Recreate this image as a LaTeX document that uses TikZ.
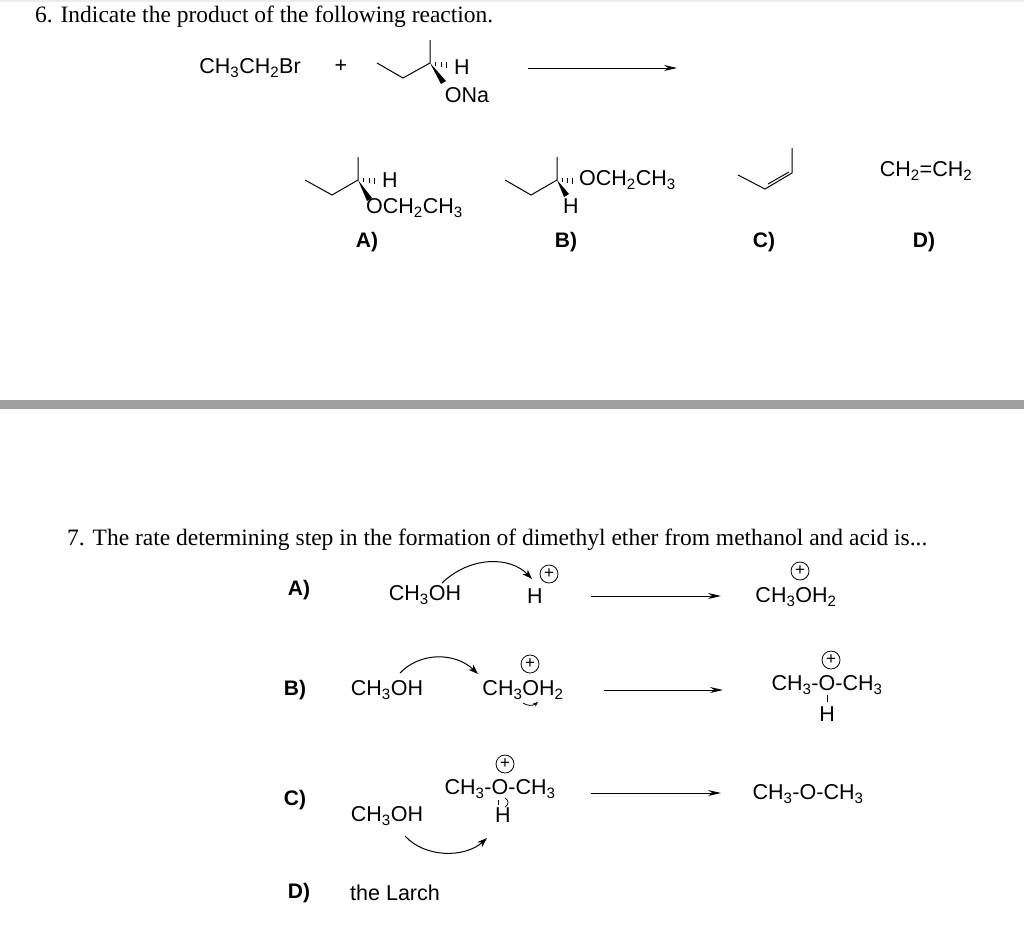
\documentclass[tikz,border=0pt]{standalone}
\usepackage{fontspec}
\setmainfont{Liberation Sans}
\newfontfamily\serifq{Liberation Serif}
\usetikzlibrary{arrows.meta,calc}
\newcommand\sbs[1]{\textsubscript{#1}}
\begin{document}
\begin{tikzpicture}[x=1pt,y=-1pt,
  lbl/.style={inner sep=0pt,font=\fontsize{21.5}{24}\selectfont},
  ttl/.style={inner sep=0pt,anchor=west,font=\serifq\fontsize{23.5}{26}\selectfont},
  bl/.style={inner sep=0pt,font=\bfseries\fontsize{21}{24}\selectfont},
  bond/.style={line width=1pt},
  rxn/.style={line width=1pt,-{Stealth[length=13pt,width=6pt]}},
  curv/.style={line width=1pt,-{Stealth[length=10pt,width=7pt]}},
  pc/.style={circle,draw,line width=0.8pt,inner sep=0pt,minimum size=18pt,font=\fontsize{17}{17}\selectfont}]
\useasboundingbox (0,0) rectangle (1024,924);
\fill[gray!15] (0,0) rectangle (1024,2);
\fill[gray!75] (0,400) rectangle (1024,409);
\node[ttl] (t6) at (35,17) {6. Indicate the product of the following reaction.};
% reactants
\node[lbl] (etbr) at (250,68) {CH\sbs3CH\sbs2Br};
\node[lbl] (plus) at (341,66) {+};
\coordinate (r1) at (377,63); \coordinate (r2) at (403,78); \coordinate (rc) at (430,63); \coordinate (r4) at (430,40);
\draw[bond] (r1)--(r2)--(rc)--(r4);
\node[lbl] (rh) at (462,67) {H};
\node[lbl] (rona) at (467,95) {ONa};
\foreach \t in {0.25,0.5,0.75} \draw[line width=0.8pt] ($(rc)!\t!(452,66)+(0,-1.5-2*\t)$)--($(rc)!\t!(452,66)+(0,1.5+2*\t)$);
\fill (rc)--(441,84)--(446,81)--cycle;
\coordinate (ra1) at (528,68); \coordinate (ra2) at (677,68);
\draw[rxn] (ra1)--(ra2);
% A
\coordinate (a1) at (305,180); \coordinate (a2) at (332,195); \coordinate (ac) at (358,180); \coordinate (a4) at (358,157);
\draw[bond] (a1)--(a2)--(ac)--(a4);
\foreach \t in {0.25,0.5,0.75} \draw[line width=0.8pt] ($(ac)!\t!(380,181)+(0,-1.5-2*\t)$)--($(ac)!\t!(380,181)+(0,1.5+2*\t)$);
\node[lbl] (ah) at (390,180) {H};
\fill (ac)--(367,201)--(372,198)--cycle;
\node[lbl,anchor=west] (aoet) at (366,208) {OCH\sbs2CH\sbs3};
% B
\coordinate (b1) at (505,180); \coordinate (b2) at (531,195); \coordinate (bc) at (557,180); \coordinate (b4) at (557,157);
\draw[bond] (b1)--(b2)--(bc)--(b4);
\foreach \t in {0.25,0.5,0.75} \draw[line width=0.8pt] ($(bc)!\t!(578,181)+(0,-1.5-2*\t)$)--($(bc)!\t!(578,181)+(0,1.5+2*\t)$);
\node[lbl,anchor=west] (boet) at (579,180) {OCH\sbs2CH\sbs3};
\fill (bc)--(564,197)--(569,194)--cycle;
\node[lbl] (bh) at (571,206) {H};
% C
\coordinate (c1) at (738,175); \coordinate (c2) at (765,189); \coordinate (c3) at (792,173); \coordinate (c4) at (792,148);
\draw[bond] (c1)--(c2)--(c3)--(c4);
\draw[bond] (768,184)--(789,172);
\node[lbl] (d) at (926,171) {CH\sbs2=CH\sbs2};
\node[bl] (la) at (367,242) {A)};
\node[bl] (lb) at (566,242) {B)};
\node[bl] (lc) at (764,242) {C)};
\node[bl] (ld) at (924,242) {D)};
% Q7
\node[ttl] (t7) at (67,540) {7. The rate determining step in the formation of dimethyl ether from methanol and acid is...};
% A
\node[bl] (qa) at (299,590) {A)};
\node[lbl] (a7m) at (425,595) {CH\sbs3OH};
\node[lbl] (a7h) at (535,596) {H};
\node[pc] (a7p) at (549,574) {+};
\draw[curv] (442,583) .. controls (470,556) and (510,556) .. (532,579);
\coordinate (aa1) at (591,596); \coordinate (aa2) at (721,596);
\draw[rxn] (aa1)--(aa2);
\node[lbl] (a7o) at (796,597) {CH\sbs3OH\sbs2};
\node[pc] (a7p2) at (800,571) {+};
% B
\node[bl] (qb) at (295,690) {B)};
\node[lbl] (b7m) at (387,690) {CH\sbs3OH};
\node[lbl] (b7o) at (523,690) {CH\sbs3OH\sbs2};
\node[pc] (b7p) at (530,664) {+};
\draw[curv] (400,673) .. controls (420,652) and (455,652) .. (478,674);
\draw[line width=0.8pt,-{Stealth[length=5pt,width=4pt]}] (523,703) .. controls (527,706) and (533,706) .. (538,702);
\coordinate (ba1) at (604,690); \coordinate (ba2) at (723,690);
\draw[rxn] (ba1)--(ba2);
\node[lbl] (b7e) at (827,685) {CH\sbs3-O-CH\sbs3};
\node[pc] (b7p2) at (831,660) {+};
\draw[line width=0.8pt] (827,695)--(827,702);
\node[lbl] (b7h) at (827,714) {H};
% C
\node[bl] (qc) at (295,800) {C)};
\node[lbl] (c7m) at (387,816) {CH\sbs3OH};
\node[lbl] (c7e) at (500,789) {CH\sbs3-O-CH\sbs3};
\node[pc] (c7p) at (505,764) {+};
\node[lbl] (c7h) at (503,815) {H};
\draw[line width=0.7pt] (498,800)--(498,805);
\draw[line width=0.7pt] (505,798) .. controls (509,800) and (509,805) .. (505,807);
\draw[curv] (405,836) .. controls (425,858) and (465,858) .. (487,838);
\coordinate (ca1) at (591,793); \coordinate (ca2) at (721,793);
\draw[rxn] (ca1)--(ca2);
\node[lbl] (c7f) at (808,794) {CH\sbs3-O-CH\sbs3};
% D
\node[bl] (qd) at (299,893) {D)};
\node[lbl,anchor=west] (d7) at (350,893) {the Larch};
\end{tikzpicture}
\end{document}
